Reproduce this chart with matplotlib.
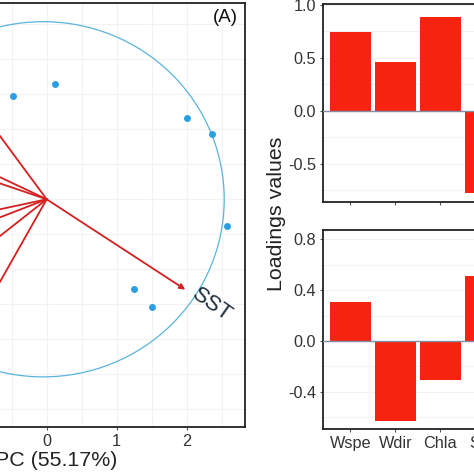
import matplotlib
matplotlib.use("Agg")
import matplotlib.pyplot as plt
from matplotlib.patches import Ellipse
import numpy as np

plt.rcParams['font.family'] = ['Liberation Sans', 'DejaVu Sans']

# PCA biplot: sample scores (only the ones inside the visible window)
score_x = [0.12, -0.48, 2.01, 2.36, 2.57, 1.25, 1.51]
score_y = [1.65, 1.47, 1.16, 0.93, -0.38, -1.28, -1.54]

# variable arrows (SST is the one labelled here)
arrow_x = [1.98, -1.50, -1.50, -1.50, -1.50, -1.50, -1.50, -1.20]
arrow_y = [-1.29, 2.03, 0.71, 0.51, -0.32, -0.58, -1.18, -2.12]
arrow_lab = ['SST', '', '', '', '', '', '', '']

# loadings bar charts
variables = ['Wspe', 'Wdir', 'Chla', 'SST']
load_pc1 = [0.74, 0.46, 0.89, -0.78]
load_pc2 = [0.305, -0.63, -0.307, 0.51]

red = '#F5230F'
arrow_red = '#D42020'
point_blue = '#2B9FE3'
circle_blue = '#5AB4DC'
frame = '#222222'
grid_c = '#F2F2F2'

fig = plt.figure(figsize=(4.74, 4.74), dpi=100)
W = H = 474.0


def px_axes(left, top, right, bottom):
    return fig.add_axes([left / W, 1 - bottom / H, (right - left) / W, (bottom - top) / H])


def style(ax):
    for s in ax.spines.values():
        s.set_color(frame)
        s.set_linewidth(1.3)
    ax.tick_params(length=2.5, width=0.8, color='#555555', labelsize=11.7,
                   labelcolor='#333333', pad=2.5)


# ---- left panel: biplot ----
ax = px_axes(-163.3, 3, 245, 427)
ax.set_xlim(-3.0, 2.833)
ax.set_ylim(-3.253, 2.804)
style(ax)
for v in np.arange(-3, 3.01, 0.5):
    ax.axvline(v, color=grid_c, lw=0.8, zorder=0)
    ax.axhline(v, color=grid_c, lw=0.8, zorder=0)
ax.set_xticks([0, 1, 2])
ax.set_yticks([-3, -2, -1, 0, 1, 2])
ax.tick_params(axis='y', labelleft=False, left=False)

ax.add_patch(Ellipse((-0.05, 0.0), 2 * 2.586, 2 * 2.537, fill=False,
                     ec=circle_blue, lw=0.9, zorder=2))
for x, y, lab in zip(arrow_x, arrow_y, arrow_lab):
    ax.annotate('', xy=(x, y), xytext=(0, 0),
                arrowprops=dict(arrowstyle='-|>', color=arrow_red, lw=1.3,
                                mutation_scale=8, shrinkA=0, shrinkB=0), zorder=3)
    if lab:
        ang = np.degrees(np.arctan2(y, x)) - 2
        ax.text(x * 1.19, y * 1.17, lab, rotation=ang, rotation_mode='anchor',
                ha='center', va='center', fontsize=16, color='#1f2d3d')
ax.plot(score_x, score_y, 'o', color=point_blue, ms=5, mec='none', zorder=4)
ax.text(225 / W, 1 - 17 / H, '(A)', transform=fig.transFigure, ha='center',
        va='center', fontsize=13.5, color='#111111')
fig.text(117 / W, 1 - 460 / H, 'PC (55.17%)', ha='right', va='center',
         fontsize=15.4, color='#222222')

# ---- right panels: loadings ----
pos = np.arange(1, len(variables) + 1)
ax1 = px_axes(323.3, 4, 512.3, 201.7)
ax2 = px_axes(323.3, 230, 512.3, 429.3)
for a, vals, lims, ticks, labs in [
        (ax1, load_pc1, (-0.861, 1.009), [-0.5, 0, 0.5, 1.0], ['-0.5', '0.0', '0.5', '1.0']),
        (ax2, load_pc2, (-0.695, 0.874), [-0.4, 0, 0.4, 0.8], ['-0.4', '0.0', '0.4', '0.8'])]:
    style(a)
    a.set_xlim(0.4, 4.6)
    a.set_ylim(*lims)
    step = ticks[1] - ticks[0]
    for v in np.arange(ticks[0] - step, ticks[-1] + step, step / 2):
        a.axhline(v, color=grid_c, lw=0.8, zorder=0)
    a.bar(pos, vals, width=0.9, color=red, zorder=2)
    a.axhline(0, color='#7F8FA6', lw=1.0, zorder=3)
    a.set_yticks(ticks)
    a.set_yticklabels(labs)
    a.set_xticks(pos)
ax1.set_xticklabels([])
ax2.set_xticklabels(variables)
fig.text(277 / W, 1 - 214 / H, 'Loadings values', rotation=90, ha='center',
         va='center', fontsize=15.4, color='#222222')

fig.savefig('out.png', dpi=100)
